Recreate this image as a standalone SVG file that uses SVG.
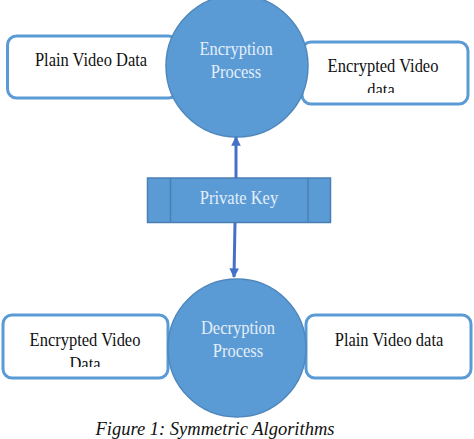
<svg xmlns="http://www.w3.org/2000/svg" width="474" height="439" viewBox="0 0 474 439">
<style>
.box{fill:#fff;stroke:#5b9bd5;stroke-width:3}
.circ{fill:#5b9bd5;stroke:#4f87bd;stroke-width:1.5}
.t{font-family:"Liberation Serif","Times New Roman",serif;font-size:16.5px;fill:#111;text-anchor:middle}
.w{fill:#e4eefa}
.conn{stroke:#4470c8;stroke-width:3;fill:none}
</style>
<defs>
<marker id="ah" viewBox="0 0 10 10" refX="9" refY="5" markerWidth="3.2" markerHeight="3.2" orient="auto">
<path d="M0,0 L10,5 L0,10 z" fill="#4470c8"/>
</marker>
<clipPath id="c1"><rect x="302" y="42" width="166" height="51"/></clipPath>
<clipPath id="c2"><rect x="2" y="315" width="166" height="52"/></clipPath>
</defs>
<rect width="474" height="439" fill="#fff"/>
<g id="plain-top">
<rect class="box" x="7.5" y="36" width="170" height="62" rx="9"/>
<text class="t" transform="translate(91,66) scale(1,1.12)">Plain Video Data</text>
</g>
<g id="enc-top">
<rect class="box" x="302" y="42" width="166" height="62" rx="9"/>
<g clip-path="url(#c1)">
<text class="t" transform="translate(383,72) scale(1,1.12)">Encrypted Video</text>
<text class="t" transform="translate(381,96) scale(1,1.12)">data</text>
</g>
</g>
<g id="encryption">
<circle class="circ" cx="237" cy="66" r="71"/>
<text class="t w" transform="translate(236,55) scale(1,1.12)">Encryption</text>
<text class="t w" transform="translate(236,78) scale(1,1.12)">Process</text>
</g>
<g id="enc-bottom">
<rect class="box" x="3" y="315" width="165" height="63" rx="9"/>
<g clip-path="url(#c2)">
<text class="t" transform="translate(85,346) scale(1,1.12)">Encrypted Video</text>
<text class="t" transform="translate(85,370) scale(1,1.12)">Data</text>
</g>
</g>
<g id="plain-bottom">
<rect class="box" x="306" y="315" width="165" height="63" rx="9"/>
<text class="t" transform="translate(389,346) scale(1,1.12)">Plain Video data</text>
</g>
<g id="decryption">
<circle class="circ" cx="237" cy="348" r="69"/>
<text class="t w" transform="translate(238,334) scale(1,1.12)">Decryption</text>
<text class="t w" transform="translate(238,357) scale(1,1.12)">Process</text>
</g>
<g id="private-key">
<rect x="147.5" y="178" width="183" height="44.5" fill="#5b9bd5" stroke="#4a7fb5" stroke-width="1.5"/>
<line x1="170.5" y1="178" x2="170.5" y2="222.5" stroke="#4a7fb5" stroke-width="1.5"/>
<line x1="308" y1="178" x2="308" y2="222.5" stroke="#4a7fb5" stroke-width="1.5"/>
<text class="t w" transform="translate(239,204) scale(1,1.12)">Private Key</text>
</g>
<g id="connectors">
<line class="conn" x1="236" y1="178" x2="236" y2="137" marker-end="url(#ah)"/>
<line class="conn" x1="235" y1="223" x2="234" y2="277" marker-end="url(#ah)"/>
</g>
<text x="215" y="435" font-family="Liberation Serif,'Times New Roman',serif" font-size="18.5" font-style="italic" fill="#111" text-anchor="middle">Figure 1: Symmetric Algorithms</text>
</svg>
